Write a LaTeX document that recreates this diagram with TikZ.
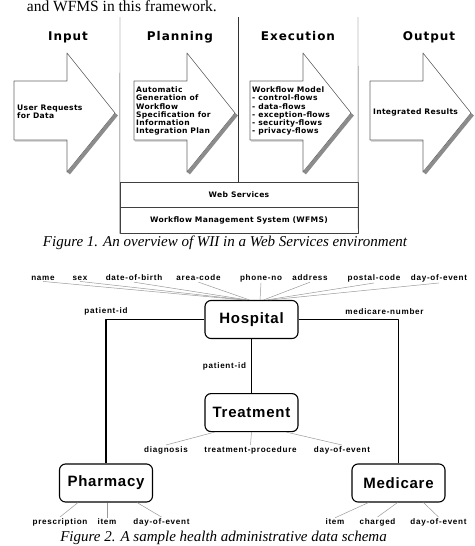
\documentclass[tikz,border=0pt]{standalone}
\usepackage{fontspec}
\setmainfont{Liberation Serif}
\newfontfamily\headfont[LetterSpace=8]{DejaVu Sans}
\newfontfamily\stepfont[LetterSpace=4]{DejaVu Sans}
\newfontfamily\tablefont[LetterSpace=5]{Liberation Sans}
\newfontfamily\labelfont[LetterSpace=9]{Liberation Sans}
\usetikzlibrary{positioning}

\begin{document}
\begin{tikzpicture}[x=1pt,y=-1pt,line join=round]

  \tikzstyle{head}=[anchor=base,inner sep=0pt,font=\headfont\bfseries\fontsize{12}{12}\selectfont]
  \tikzstyle{step text}=[anchor=west,align=left,inner sep=0pt,
                         font=\stepfont\bfseries\fontsize{7.6}{8.1}\selectfont]
  \tikzstyle{layer}=[draw=black!75,minimum width=238pt,inner sep=0pt,
                     font=\stepfont\bfseries\fontsize{7.6}{8}\selectfont]
  \tikzstyle{table}=[draw,line width=1.1pt,rounded corners=6pt,minimum width=93pt,
                     minimum height=38pt,font=\tablefont\bfseries\fontsize{15}{15}\selectfont]
  \tikzstyle{attr}=[inner sep=1pt,font=\labelfont\bfseries\fontsize{8.1}{8}\selectfont]
  \tikzstyle{attr line}=[black!40,line width=0.5pt]
  \tikzstyle{link}=[line width=1.1pt]
  \tikzstyle{caption}=[font=\itshape\fontsize{15}{15}\selectfont]

  \useasboundingbox (0,0) rectangle (474,546);
  \clip (0,0) rectangle (474,546);

  \node[anchor=base east,inner sep=0pt,font=\fontsize{15.5}{16}\selectfont]
    (intro) at (217,12) {and WFMS in this framework.};

  % Figure 1
  \foreach \x/\name in {68/Input,180/Planning,298/Execution,429/Output}
    \node[head] (h-\name) at (\x,40) {\name};

  \foreach \x in {14,134,250,370} {
    \draw[black!45,line width=3.5pt] (\x+54.6,173.3) -- (\x+102.6,114.3);
    \draw[black!15,line width=1.5pt] (\x+1,141.2) -- (\x+53,141.2);
    \draw[fill=white,draw=black!60,line width=0.6pt]
      (\x,81) -- (\x+53,81) -- (\x+53,53) -- (\x+101,113)
      -- (\x+53,172) -- (\x+53,140) -- (\x,140) -- cycle;
  }

  \node[step text] (t-in)   at (17,112)  {User Requests\\for Data};
  \node[step text] (t-plan) at (136,111) {Automatic\\Generation of\\Workflow\\Specification for\\Information\\Integration Plan};
  \node[step text] (t-exec) at (252,111) {Workflow Model\\- control-flows\\- data-flows\\- exception-flows\\- security-flows\\- privacy-flows};
  \node[step text] (t-out)  at (373,112) {Integrated Results};

  \node[layer,minimum height=25pt] (ws) at (239,194.5) {Web Services};
  \node[layer,minimum height=26pt,below=0pt of ws] (wfms) {Workflow Management System (WFMS)};

  \coordinate (top-l) at (120,17);
  \coordinate (top-m) at (238,17);
  \coordinate (top-r) at (358,17);
  \draw[black!75] (top-l) -- (wfms.south west);
  \draw[black!75] (top-r) -- (wfms.south east);
  \draw[black!80,line width=0.9pt] (top-m) -- (top-m |- ws.north);

  \node[caption] (cap1) at (225,243) {Figure 1. An overview of WII in a Web Services environment};

  % Figure 2
  \node[table] (hosp) at (251.5,319.5) {Hospital};
  \node[table,below=54pt of hosp] (treat) {Treatment};
  \node[table] (pharm) at (106,483) {Pharmacy};
  \node[table] (medi) at (398.5,483) {Medicare};

  \draw[link] (hosp.west) -| node[attr,above=3pt] {patient-id} (pharm.north);
  \draw[link] (hosp.east) -| node[attr,pos=0.43,above=3pt] {medicare-number} (medi.north);
  \draw[link] (hosp.south) -- node[attr,left=4pt] {patient-id} (treat.north);

  \foreach \x/\lbl/\dx [count=\i] in {43/name/-8,80/sex/-6,134/date-of-birth/-4,
      198.5/area-code/-2,261/phone-no/8.5,310/address/12,374/postal-code/15,439/day-of-event/18} {
    \node[attr] (ha\i) at (\x,278) {\lbl};
    \draw[attr line] (ha\i.south) -- ([xshift=\dx pt]hosp.north);
  }

  \foreach \x/\lbl/\dx [count=\i] in {166/diagnosis/-37,250.5/treatment-procedure/0,342/day-of-event/35} {
    \node[attr] (ta\i) at (\x,450) {\lbl};
    \draw[attr line] (ta\i.north) -- ([xshift=\dx pt]treat.south);
  }

  \foreach \x/\lbl/\dx [count=\i] in {60/prescription/-28,107/item/1,161.5/day-of-event/31} {
    \node[attr] (pa\i) at (\x,522) {\lbl};
    \draw[attr line] (pa\i.north) -- ([xshift=\dx pt]pharm.south);
  }

  \foreach \x/\lbl/\dx [count=\i] in {335/item/-30,377.5/charged/-1,438.5/day-of-event/25} {
    \node[attr] (ma\i) at (\x,522) {\lbl};
    \draw[attr line] (ma\i.north) -- ([xshift=\dx pt]medi.south);
  }

  \node[caption] (cap2) at (223.5,538) {Figure 2. A sample health administrative data schema};
\end{tikzpicture}
\end{document}
